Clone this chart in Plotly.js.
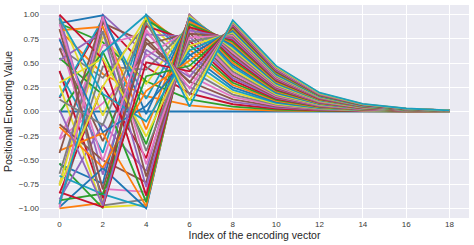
<!DOCTYPE html>
<html>
<head>
<meta charset="utf-8">
<script src="https://cdn.plot.ly/plotly-3.0.1.min.js"></script>
<style>html,body{margin:0;padding:0;background:#fff;}#chart{width:474px;height:245px;}</style>
</head>
<body>
<div id="chart"></div>
<script>
// Encoding-vector indices (x axis)
const indices = [0, 2, 4, 6, 8, 10, 12, 14, 16, 18];
const xTicks = [0, 2, 4, 6, 8, 10, 12, 14, 16, 18];
const yTicks = [-1, -0.75, -0.5, -0.25, 0, 0.25, 0.5, 0.75, 1];

// Values per encoding index, one entry per position 0..49
const dim0 = [0, 0.841, 0.909, 0.141, -0.757, -0.959, -0.279, 0.657, 0.989, 0.412,
  -0.544, -1.000, -0.537, 0.420, 0.991, 0.650, -0.288, -0.961, -0.751, 0.150,
  0.913, 0.837, -0.009, -0.846, -0.906, -0.132, 0.763, 0.956, 0.271, -0.664,
  -0.988, -0.404, 0.551, 1.000, 0.529, -0.428, -0.992, -0.644, 0.296, 0.964,
  0.745, -0.159, -0.917, -0.832, 0.018, 0.851, 0.902, 0.124, -0.768, -0.954];
const dim2 = [0, 0.388, 0.715, 0.930, 1.000, 0.913, 0.684, 0.347, -0.043, -0.427,
  -0.744, -0.945, -0.998, -0.895, -0.652, -0.307, 0.087, 0.466, 0.772, 0.958,
  0.994, 0.875, 0.618, 0.265, -0.129, -0.504, -0.799, -0.970, -0.989, -0.853,
  -0.584, -0.223, 0.172, 0.541, 0.825, 0.979, 0.981, 0.829, 0.548, 0.181,
  -0.215, -0.577, -0.848, -0.987, -0.972, -0.804, -0.511, -0.138, 0.257, 0.611];
const dim4 = [0, 0.158, 0.312, 0.458, 0.592, 0.712, 0.814, 0.896, 0.955, 0.990,
  1.000, 0.985, 0.946, 0.882, 0.797, 0.692, 0.569, 0.433, 0.285, 0.130,
  -0.028, -0.186, -0.338, -0.483, -0.615, -0.732, -0.830, -0.908, -0.962, -0.993,
  -0.999, -0.980, -0.936, -0.869, -0.780, -0.671, -0.546, -0.408, -0.258, -0.102,
  0.056, 0.213, 0.365, 0.507, 0.637, 0.751, 0.845, 0.919, 0.970, 0.996];
const dim6 = [0, 0.063, 0.126, 0.188, 0.250, 0.310, 0.370, 0.428, 0.484, 0.538,
  0.590, 0.640, 0.687, 0.731, 0.773, 0.811, 0.847, 0.879, 0.907, 0.932,
  0.953, 0.970, 0.983, 0.993, 0.998, 1.000, 0.998, 0.991, 0.981, 0.967,
  0.949, 0.927, 0.901, 0.872, 0.839, 0.803, 0.764, 0.722, 0.677, 0.630,
  0.579, 0.527, 0.472, 0.415, 0.357, 0.298, 0.237, 0.175, 0.113, 0.050];
const dim8 = [0, 0.025, 0.050, 0.075, 0.100, 0.125, 0.150, 0.175, 0.200, 0.224,
  0.249, 0.273, 0.297, 0.321, 0.344, 0.368, 0.391, 0.414, 0.437, 0.459,
  0.482, 0.503, 0.525, 0.546, 0.567, 0.588, 0.608, 0.627, 0.647, 0.666,
  0.684, 0.702, 0.720, 0.737, 0.754, 0.770, 0.786, 0.801, 0.816, 0.830,
  0.844, 0.857, 0.870, 0.882, 0.894, 0.905, 0.915, 0.925, 0.934, 0.943];
const dim10 = [0, 0.010, 0.020, 0.030, 0.040, 0.050, 0.060, 0.070, 0.080, 0.090,
  0.100, 0.110, 0.120, 0.130, 0.140, 0.149, 0.159, 0.169, 0.179, 0.189,
  0.199, 0.208, 0.218, 0.228, 0.238, 0.247, 0.257, 0.267, 0.276, 0.286,
  0.296, 0.305, 0.315, 0.324, 0.333, 0.343, 0.352, 0.362, 0.371, 0.380,
  0.389, 0.399, 0.408, 0.417, 0.426, 0.435, 0.444, 0.453, 0.462, 0.471];
const dim12 = [0, 0.004, 0.008, 0.012, 0.016, 0.020, 0.024, 0.028, 0.032, 0.036,
  0.040, 0.044, 0.048, 0.052, 0.056, 0.060, 0.064, 0.068, 0.072, 0.076,
  0.080, 0.084, 0.088, 0.092, 0.095, 0.099, 0.103, 0.107, 0.111, 0.115,
  0.119, 0.123, 0.127, 0.131, 0.135, 0.139, 0.143, 0.147, 0.151, 0.155,
  0.159, 0.163, 0.167, 0.171, 0.174, 0.178, 0.182, 0.186, 0.190, 0.194];
const dim14 = [0, 0.002, 0.003, 0.005, 0.006, 0.008, 0.010, 0.011, 0.013, 0.014,
  0.016, 0.017, 0.019, 0.021, 0.022, 0.024, 0.025, 0.027, 0.029, 0.030,
  0.032, 0.033, 0.035, 0.036, 0.038, 0.040, 0.041, 0.043, 0.044, 0.046,
  0.048, 0.049, 0.051, 0.052, 0.054, 0.055, 0.057, 0.059, 0.060, 0.062,
  0.063, 0.065, 0.067, 0.068, 0.070, 0.071, 0.073, 0.074, 0.076, 0.078];
const dim16 = [0, 0.001, 0.001, 0.002, 0.003, 0.003, 0.004, 0.004, 0.005, 0.006,
  0.006, 0.007, 0.008, 0.008, 0.009, 0.009, 0.010, 0.011, 0.011, 0.012,
  0.013, 0.013, 0.014, 0.015, 0.015, 0.016, 0.016, 0.017, 0.018, 0.018,
  0.019, 0.020, 0.020, 0.021, 0.021, 0.022, 0.023, 0.023, 0.024, 0.025,
  0.025, 0.026, 0.026, 0.027, 0.028, 0.028, 0.029, 0.030, 0.030, 0.031];
const dim18 = [0, 0.000, 0.001, 0.001, 0.001, 0.001, 0.002, 0.002, 0.002, 0.002,
  0.003, 0.003, 0.003, 0.003, 0.004, 0.004, 0.004, 0.004, 0.005, 0.005,
  0.005, 0.005, 0.006, 0.006, 0.006, 0.006, 0.007, 0.007, 0.007, 0.007,
  0.008, 0.008, 0.008, 0.008, 0.009, 0.009, 0.009, 0.009, 0.010, 0.010,
  0.010, 0.010, 0.011, 0.011, 0.011, 0.011, 0.012, 0.012, 0.012, 0.012];

const columns = [dim0, dim2, dim4, dim6, dim8, dim10, dim12, dim14, dim16, dim18];
const palette = ['#1f77b4', '#ff7f0e', '#2ca02c', '#c8102e', '#9467bd',
  '#8c564b', '#e377c2', '#7f7f7f', '#e3dc2c', '#1a9fbf'];

const traces = [];
for (let p = 0; p < dim0.length; p++) {
  traces.push({
    x: indices,
    y: columns.map(c => c[p]),
    type: 'scatter',
    mode: 'lines',
    line: {color: palette[p % palette.length], width: 1.8},
    showlegend: false,
    hoverinfo: 'skip'
  });
}

const font = {family: '"Liberation Sans", Arial, sans-serif', color: '#262626'};
const layout = {
  width: 474, height: 245,
  margin: {l: 40, r: 5, t: 5, b: 27},
  paper_bgcolor: '#ffffff',
  plot_bgcolor: '#EAEAF2',
  font: font,
  showlegend: false,
  xaxis: {
    range: [-0.9, 18.9],
    tickvals: xTicks,
    ticktext: xTicks.map(String),
    showgrid: true, gridcolor: '#ffffff', gridwidth: 1,
    zeroline: false, showline: false, ticks: '',
    tickfont: {size: 8, color: '#3a3a3a', family: font.family},
    title: {text: 'Index of the encoding vector', font: {size: 10.5, color: '#262626', family: font.family}, standoff: 2}
  },
  yaxis: {
    range: [-1.1, 1.1],
    tickvals: yTicks,
    tickformat: '.2f',
    showgrid: true, gridcolor: '#ffffff', gridwidth: 1,
    zeroline: false, showline: false, ticks: '',
    tickfont: {size: 8, color: '#3a3a3a', family: font.family},
    title: {text: 'Positional Encoding Value', font: {size: 10.5, color: '#262626', family: font.family}, standoff: 4}
  }
};

Plotly.newPlot('chart', traces, layout, {displayModeBar: false, staticPlot: true});
</script>
</body>
</html>
